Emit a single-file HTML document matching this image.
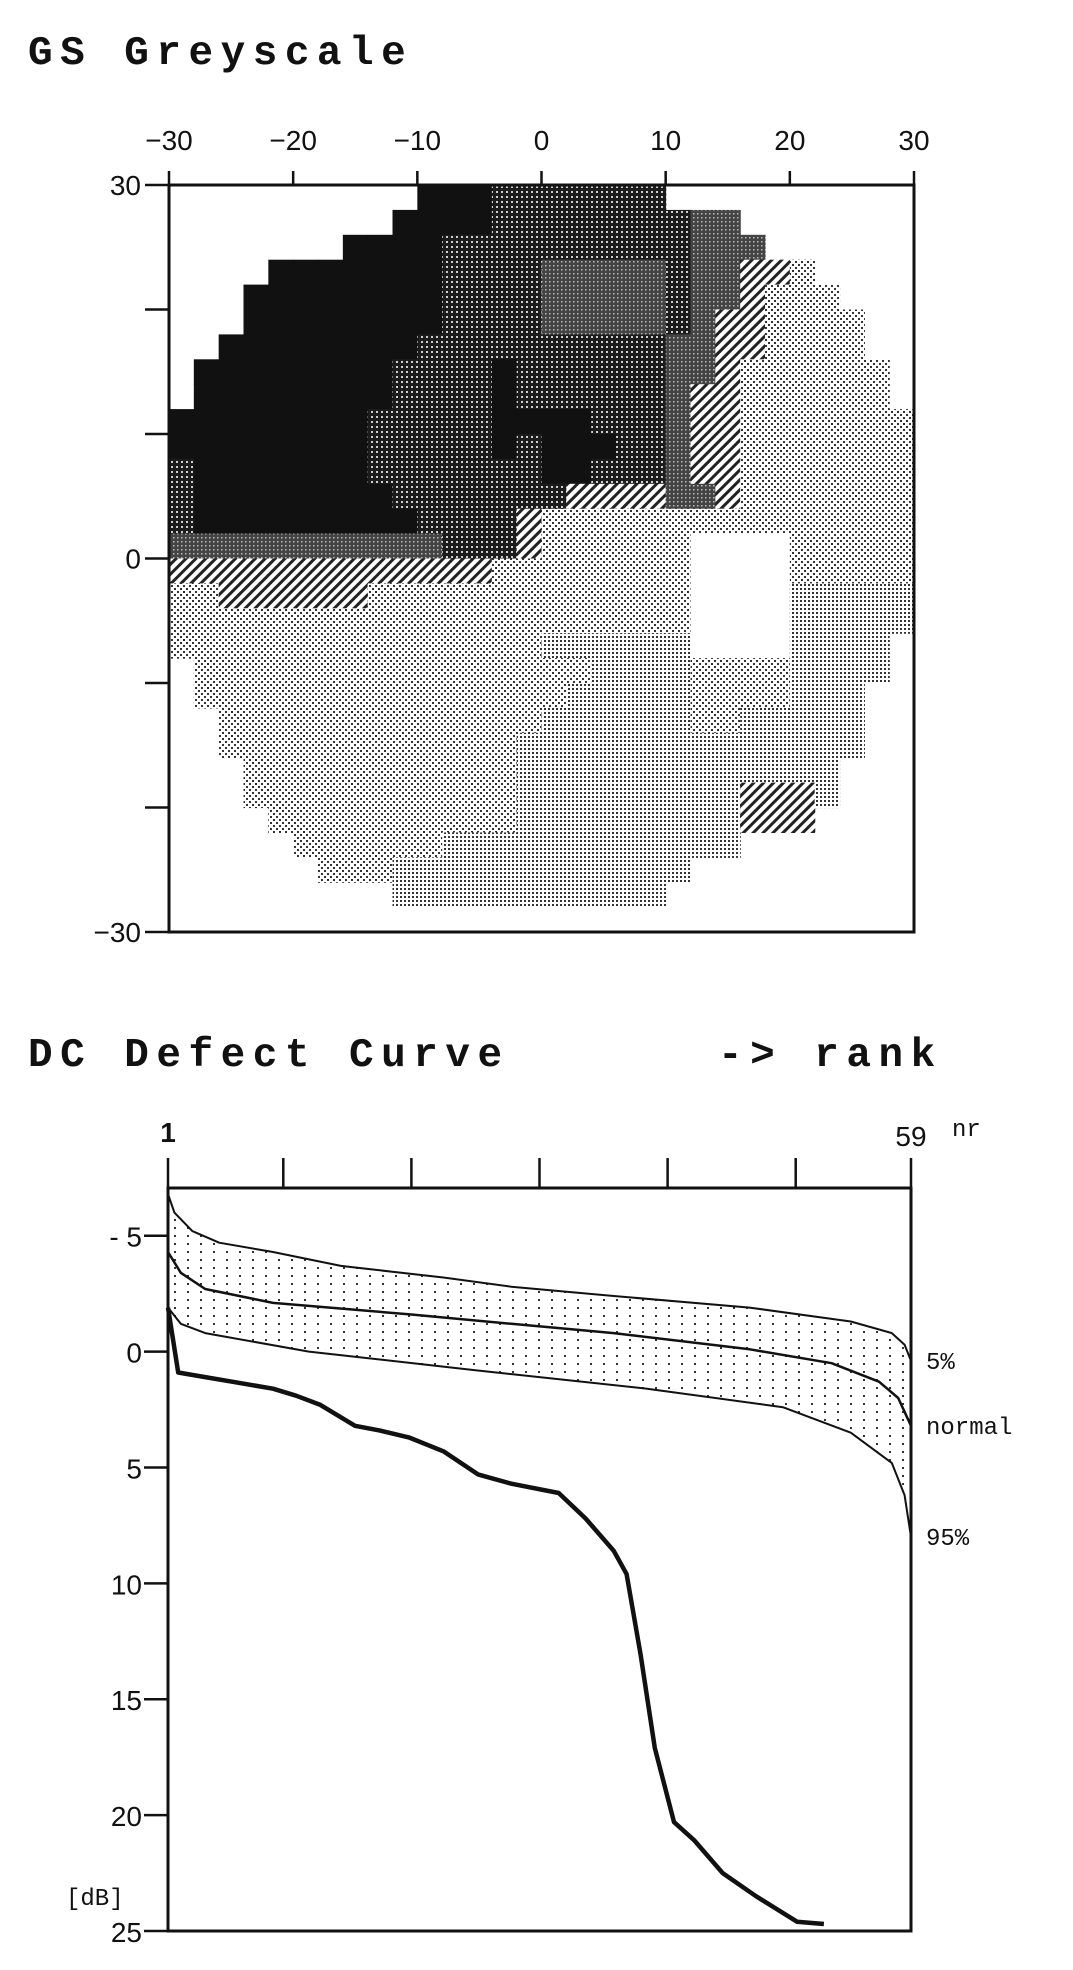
<!DOCTYPE html>
<html><head><meta charset="utf-8"><style>
html,body{margin:0;padding:0;background:#fff;}
svg{display:block;}
.t{font-family:"Liberation Mono",monospace;font-weight:bold;font-size:41px;fill:#111;letter-spacing:7.5px;}
.n{font-family:"Liberation Sans",sans-serif;font-size:28px;fill:#111;}
.s{font-family:"Liberation Mono",monospace;font-size:24px;fill:#111;}
</style></head><body>
<svg id="chart" width="1073" height="1970" viewBox="0 0 1073 1970" xmlns="http://www.w3.org/2000/svg">
<defs>
<pattern id="pD" width="5" height="5" patternUnits="userSpaceOnUse"><rect width="5" height="5" fill="#1c1c1c"/><rect x="1" y="1" width="2" height="2" fill="#cfcfcf"/></pattern>
<pattern id="pM" width="4" height="4" patternUnits="userSpaceOnUse"><rect width="4" height="4" fill="#444"/><rect x="1" y="1" width="1.5" height="1.5" fill="#bbb"/></pattern>
<pattern id="pH" width="7" height="7" patternUnits="userSpaceOnUse" patternTransform="rotate(-45)"><rect width="7" height="7" fill="#fff"/><rect width="7" height="3" fill="#222"/></pattern>
<pattern id="pL" width="6" height="6" patternUnits="userSpaceOnUse"><rect width="6" height="6" fill="#fff"/><rect x="0" y="0" width="2" height="2" fill="#333"/><rect x="3" y="3" width="2" height="2" fill="#333"/></pattern>
<pattern id="pG" width="4" height="4" patternUnits="userSpaceOnUse"><rect width="4" height="4" fill="#fff"/><rect x="0" y="0" width="2" height="2" fill="#333"/></pattern>
<pattern id="pBand" width="13" height="8" patternUnits="userSpaceOnUse"><rect x="5" y="3" width="2" height="2" fill="#333"/></pattern>
</defs>
<text class="t" x="28" y="64">GS Greyscale</text>
<g id="gs"></g>
<text class="t" x="28" y="1066">DC Defect Curve</text>
<text class="t" x="718" y="1066">-&gt; rank</text>
<g id="dc"></g>
</svg>
<script>
// ---- Greyscale map data (rows y=30..-30, cols x=-30..30, 2 degree cells) ----
const gsRows = [
"..........KKKDDDDDDD..........",
".........KKKKDDDDDDDDMM.......",
".......KKKKDDDDDDDDDDMMM......",
"....KKKKKKKDDDDMMMMMDMMHHL....",
"...KKKKKKKKDDDDMMMMMDMMHLLL...",
"...KKKKKKKKDDDDMMMMMDMHHLLLL..",
"..KKKKKKKKDDDDDDDDDDMMHHLLLL..",
".KKKKKKKKDDDDKDDDDDDMMHLLLLLL.",
".KKKKKKKKDDDDKDDDDDDMHHLLLLLL.",
"KKKKKKKKDDDDDKKKKDDDMHHLLLLLLL",
"KKKKKKKKDDDDDKDKKKDDMHHLLLLLLL",
"DKKKKKKKDDDDDDDKKDDDMHHLLLLLLL",
"DKKKKKKKKDDDDDDDHHHHMMHLLLLLLL",
"DKKKKKKKKKDDDDHLLLLLLLLLLLLLLL",
"MMMMMMMMMMMDDDHLLLLLLWWWWLLLLL",
"HHHHHHHHHHHHHLLLLLLLLWWWWLLLLL",
"LLHHHHHHLLLLLLLLLLLLLWWWWGGGGG",
"LLLLLLLLLLLLLLLLLLLLLWWWWGGGGG",
"LLLLLLLLLLLLLLLGGGGGGWWWWGGGG.",
".LLLLLLLLLLLLLLLLGGGGLLLLGGGG.",
".LLLLLLLLLLLLLLLGGGGGLLLLGGG..",
"..LLLLLLLLLLLLLGGGGGGLLGGGGG..",
"..LLLLLLLLLLLLGGGGGGGGGGGGGG..",
"...LLLLLLLLLLLGGGGGGGGGGGGG...",
"...LLLLLLLLLLLGGGGGGGGGHHHG...",
"....LLLLLLLLLLGGGGGGGGGHHH....",
".....LLLLLLGGGGGGGGGGGG.......",
"......LLLGGGGGGGGGGGG.........",
".........GGGGGGGGGGG..........",
".............................."
];
const gsTicks = [-30,-20,-10,0,10,20,30];
const gsTickLabels = ["\u221230","\u221220","\u221210","0","10","20","30"];
const gsYTickLabels = ["30","","","0","","","\u221230"];

// ---- Defect curve data ----
const dcRankTicks = [1,10,20,30,40,50,59];
const dcYTicks = [-5,0,5,10,15,20,25];
const dcYLabels = ["- 5","0","5","10","15","20","25"];
const p5Ranks = [1,1.5,2.9,5,9.2,14.5,22.5,27.8,35.8,46.4,54.3,57.5,58.5,59];
const p5Vals = [-6.8,-6.0,-5.2,-4.7,-4.3,-3.7,-3.2,-2.8,-2.4,-1.9,-1.3,-0.8,-0.3,0.4];
const normRanks = [1,2,3.9,9.2,20,27.8,35.8,46.4,52.8,56.5,58,59];
const normVals = [-4.3,-3.4,-2.7,-2.1,-1.6,-1.2,-0.8,-0.1,0.5,1.3,2.0,3.2];
const p95Ranks = [1,2,3.9,12,25,38.4,49,54.3,57.5,58.5,59];
const p95Vals = [-1.9,-1.2,-0.8,0,0.8,1.6,2.4,3.5,4.8,6.2,8.0];
const defRanks = [1,1.4,1.8,3.9,6,9.2,11,12.9,15.6,17.5,19.8,22.5,25.2,27.8,31.5,33.6,35.8,36.8,37.9,39,40.5,42.1,44.3,46.9,50.1,52.2];
const defVals = [-1.9,-0.5,0.9,1.1,1.3,1.6,1.9,2.3,3.2,3.4,3.7,4.3,5.3,5.7,6.1,7.2,8.6,9.6,13.1,17.1,20.3,21.1,22.5,23.5,24.6,24.7];

const NS="http://www.w3.org/2000/svg";
function mk(tag, attrs, parent){const e=document.createElementNS(NS,tag);for(const k in attrs)e.setAttribute(k,attrs[k]);parent.appendChild(e);return e;}

// ---- Greyscale plot ----
(function(){
  const g=document.getElementById('gs');
  const L=169,R=914,T=185,B=932;
  const sx=v=>L+(v+30)/60*(R-L);
  const sy=v=>T+(30-v)/60*(B-T);
  const fills={K:"#111",D:"url(#pD)",M:"url(#pM)",H:"url(#pH)",L:"url(#pL)",G:"url(#pG)",W:"#fff"};
  const names={K:"black",D:"dark-dots",M:"dense-grey",H:"hatch",L:"light-dots",G:"grey-dots",W:"white"};
  gsRows.forEach((row,r)=>{
    for(let c=0;c<row.length;c++){
      const ch=row[c]; if(ch==='.') continue;
      const x0=-30+2*c, y1=30-2*r;
      const e=mk('rect',{x:sx(x0),y:sy(y1),width:sx(x0+2)-sx(x0)+0.6,height:sy(y1-2)-sy(y1)+0.6,fill:fills[ch]},g);
      
      
    }
  });
  const box=mk('rect',{x:L,y:T,width:R-L,height:B-T,fill:"none",stroke:"#111","stroke-width":3},g);
  
  
  gsTicks.forEach((v,i)=>{
    const x=sx(v);
    const tk=mk('line',{x1:x,y1:T-14,x2:x,y2:T,stroke:"#111","stroke-width":2.5},g);
    
    
    const tl=mk('text',{x:x,y:150,"text-anchor":"middle",class:"n"},g);
    tl.textContent=gsTickLabels[i];
    
    
    const y=sy(v);
    const yk=mk('line',{x1:L-24,y1:y,x2:L,y2:y,stroke:"#111","stroke-width":2.5},g);
    
    
    if(gsYTickLabels[i]){
      const yl=mk('text',{x:L-28,y:sy(30-(i*10))+10,"text-anchor":"end",class:"n"},g);
      yl.textContent=gsYTickLabels[i];
      
      
    }
  });
})();

// ---- Defect curve plot ----
(function(){
  const g=document.getElementById('dc');
  const L=168,R=911,T=1188,B=1931;
  const yTop=-7.06,yBot=25;
  const sx=r=>L+(r-1)/58*(R-L);
  const sy=v=>T+(v-yTop)/(yBot-yTop)*(B-T);
  const pts=(rs,vs)=>rs.map((r,i)=>sx(r).toFixed(1)+','+sy(vs[i]).toFixed(1));
  const band=mk('polygon',{points:pts(p5Ranks,p5Vals).concat(pts(p95Ranks,p95Vals).reverse()).join(' '),fill:"url(#pBand)"},g);
  
  
  const box=mk('rect',{x:L,y:T,width:R-L,height:B-T,fill:"none",stroke:"#111","stroke-width":3},g);
  
  
  dcRankTicks.forEach(r=>{
    const x=sx(r);
    const tk=mk('line',{x1:x,y1:T-30,x2:x,y2:T,stroke:"#111","stroke-width":2.5},g);
    
    
  });
  const l1=mk('text',{x:sx(1),y:1142,"text-anchor":"middle",class:"n","font-weight":"bold","font-size":"24"},g);
  l1.textContent="1";
  
  
  const l59=mk('text',{x:sx(59),y:1146,"text-anchor":"middle",class:"n"},g);
  l59.textContent="59";
  
  
  const nr=mk('text',{x:952,y:1136,class:"s"},g);
  nr.textContent="nr";
  
  
  dcYTicks.forEach((v,i)=>{
    const y=sy(v);
    const tk=mk('line',{x1:L-24,y1:y,x2:L,y2:y,stroke:"#111","stroke-width":2.5},g);
    
    
    const tl=mk('text',{x:L-26,y:y+11,"text-anchor":"end",class:"n"},g);
    tl.textContent=dcYLabels[i];
    
    
  });
  const db=mk('text',{x:66,y:1905,class:"s"},g);
  db.textContent="[dB]";
  
  
  const series=[[p5Ranks,p5Vals,2,'percentile-5-line'],[normRanks,normVals,2.5,'normal-line'],[p95Ranks,p95Vals,2,'percentile-95-line'],[defRanks,defVals,4.5,'defect-curve-line']];
  series.forEach(s=>{
    const pl=mk('polyline',{points:pts(s[0],s[1]).join(' '),fill:"none",stroke:"#111","stroke-width":s[2],"stroke-linejoin":"round"},g);
    
    
  });
  const labs=[["5%",p5Vals[p5Vals.length-1]],["normal",normVals[normVals.length-1]],["95%",p95Vals[p95Vals.length-1]]];
  labs.forEach(lb=>{
    const t=mk('text',{x:926,y:sy(lb[1])+8,class:"s"},g);
    t.textContent=lb[0];
    
    
  });
})();
</script>
</body></html>
